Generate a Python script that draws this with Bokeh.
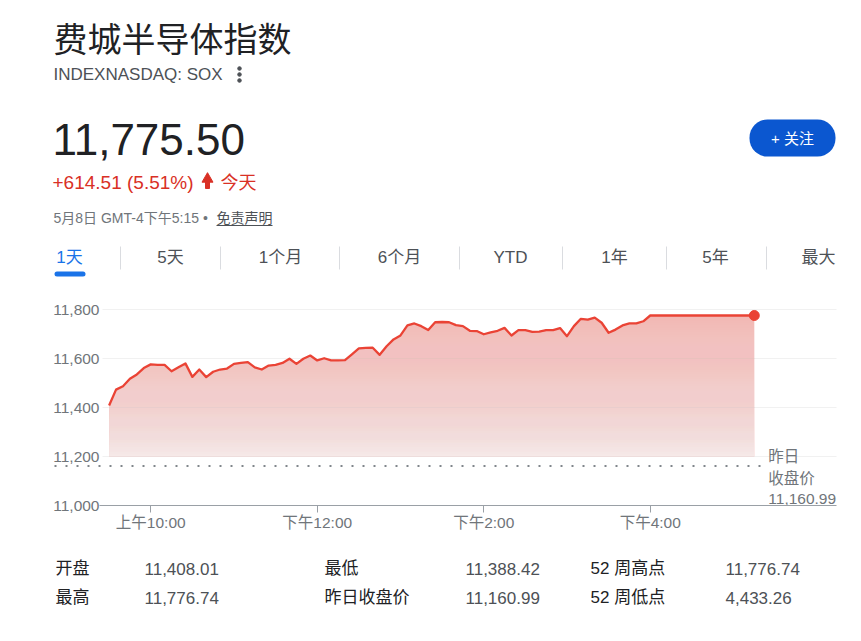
import numpy as np
from bokeh.plotting import figure
from bokeh.models import (Range1d, FixedTicker, NumeralTickFormatter, BoxAnnotation,
                          LinearAxis, Label)
from bokeh.core.properties import value
from bokeh.embed import file_html
from bokeh.resources import INLINE

FONT = "'Liberation Sans', 'Noto Sans CJK SC', sans-serif"

# ---------------- texts ----------------
title_text = "费城半导体指数"
ticker_text = "INDEXNASDAQ: SOX"
price_text = "11,775.50"
change_text = "+614.51 (5.51%)"
period_text = "今天"
date_text = "5月8日 GMT-4下午5:15 •"
disclaimer_text = "免责声明"
follow_text = "+ 关注"
tab_labels = ["1天", "5天", "1个月", "6个月", "YTD", "1年", "5年", "最大"]

# ---------------- intraday series ----------------
times = ["09:30", "09:35", "09:40", "09:45", "09:50", "09:55", "10:00", "10:05", "10:10", "10:15",
         "10:20", "10:25", "10:30", "10:35", "10:40", "10:45", "10:50", "10:55", "11:00", "11:05",
         "11:10", "11:15", "11:20", "11:25", "11:30", "11:35", "11:40", "11:45", "11:50", "11:55",
         "12:00", "12:05", "12:10", "12:15", "12:20", "12:25", "12:30", "12:35", "12:40", "12:45",
         "12:50", "12:55", "13:00", "13:05", "13:10", "13:15", "13:20", "13:25", "13:30", "13:35",
         "13:40", "13:45", "13:50", "13:55", "14:00", "14:05", "14:10", "14:15", "14:20", "14:25",
         "14:30", "14:35", "14:40", "14:45", "14:50", "14:55", "15:00", "15:05", "15:10", "15:15",
         "15:20", "15:25", "15:30", "15:35", "15:40", "15:45", "15:50", "15:55", "16:00", "17:15"]
prices = [11408, 11473, 11487, 11517, 11535, 11561, 11576, 11574, 11574, 11548,
          11564, 11580, 11525, 11555, 11524, 11546, 11555, 11559, 11578, 11582,
          11585, 11564, 11555, 11571, 11574, 11582, 11599, 11578, 11599, 11612,
          11592, 11601, 11592, 11592, 11593, 11617, 11641, 11643, 11644, 11615,
          11650, 11678, 11694, 11735, 11743, 11732, 11716, 11748, 11749, 11748,
          11736, 11732, 11713, 11712, 11699, 11707, 11713, 11725, 11694, 11716,
          11716, 11709, 11710, 11716, 11716, 11724, 11691, 11732, 11762, 11759,
          11767, 11746, 11705, 11718, 11735, 11743, 11743, 11752, 11775.5, 11775.5]
prev_close = 11160.99
prev_close_lines = ["昨日", "收盘价", "11,160.99"]

y_ticks = [11000, 11200, 11400, 11600, 11800]
x_ticks = [10, 12, 14, 16]
x_tick_labels = ["上午10:00", "下午12:00", "下午2:00", "下午4:00"]

stat_labels_a = ["开盘", "最高"]
stat_values_a = ["11,408.01", "11,776.74"]
stat_labels_b = ["最低", "昨日收盘价"]
stat_values_b = ["11,388.42", "11,160.99"]
stat_labels_c = ["52 周高点", "52 周低点"]
stat_values_c = ["11,776.74", "4,433.26"]

# ---------------- layout constants (page pixels) ----------------
W, H = 845, 630
X0, Y0 = 1, 1                 # page position of the canvas' top-left corner
PLOT_L, PLOT_R = 100, 837     # chart plotting area, left/right
AXIS_Y = 506                  # page y of the 11,000 baseline
PX_PER_HOUR = 83.25
PX_PER_UNIT = 0.245
OPEN_X = 109.6                # page x of the first sample

RED_LINE = "#ea4335"
RED_TEXT = "#d93025"
GRAY = "#70757a"
DARK = "#202124"
MID = "#4d5156"

hours = np.array([int(t[:2]) + int(t[3:]) / 60 for t in times])
prices_arr = np.array(prices, dtype=float)


def t_at(px):
    return hours[0] + (px - OPEN_X) / PX_PER_HOUR


def v_at(py):
    return y_ticks[0] + (AXIS_Y - py) / PX_PER_UNIT


p = figure(frame_width=W, frame_height=H,
           x_range=Range1d(X0, X0 + W), y_range=Range1d(Y0 + H, Y0),
           output_backend="svg", toolbar_location=None, min_border=0,
           x_axis_location=None, y_axis_location=None)
p.grid.visible = False
p.outline_line_color = None
p.background_fill_color = "white"
p.border_fill_color = "white"
p.extra_x_ranges = {"time": Range1d(t_at(X0), t_at(X0 + W))}
p.extra_y_ranges = {"price": Range1d(v_at(Y0 + H), v_at(Y0))}
TP = dict(x_range_name="time", y_range_name="price")


def txt(x, y, s, size, color, align="left", baseline="middle"):
    p.text(x=[x], y=[y], text=[s], text_font=value(FONT), text_font_size=f"{size}px",
           text_color=color, text_align=align, text_baseline=baseline)


# ---------------- header ----------------
txt(54, 40, title_text, 34, DARK)
txt(54, 75, ticker_text, 17, MID)
p.scatter(x=[240, 240, 240], y=[69, 75, 81], size=3.6, color=MID)
txt(53, 140, price_text, 44, DARK)
txt(53, 183, change_text, 19, RED_TEXT)
p.scatter(x=[208], y=[179.5], marker="triangle", size=11, color=RED_TEXT)
p.rect(x=[208], y=[185], width=4, height=8, color=RED_TEXT)
txt(221, 183, period_text, 18, RED_TEXT)
txt(54, 218, date_text, 14, GRAY)
txt(217, 218, disclaimer_text, 14, MID)
p.segment(x0=[217], y0=[226], x1=[273], y1=[226], line_color=MID, line_width=1)

p.add_layout(BoxAnnotation(left=750, right=836, top=120, bottom=157, fill_color="#0b57d0",
                           fill_alpha=1, line_alpha=0, border_radius=18))
p.add_layout(Label(x=793, y=139, text=follow_text, text_font=FONT, text_font_size="15px",
                   text_color="white", text_align="center", text_baseline="middle"))

tab_x = [70, 171, 281, 400, 511, 615, 716, 819]
sep_x = [121, 221, 340, 460, 563, 667, 767]
for i, (x, lab) in enumerate(zip(tab_x, tab_labels)):
    txt(x, 258, lab, 17, "#1a73e8" if i == 0 else MID, align="center")
p.segment(x0=sep_x, y0=[247] * len(sep_x), x1=sep_x, y1=[270] * len(sep_x),
          line_color="#dadce0", line_width=1)
p.add_layout(BoxAnnotation(left=55, right=86, top=272, bottom=277, fill_color="#1a73e8",
                           fill_alpha=1, line_alpha=0, border_radius=3))

# ---------------- chart ----------------
t_left, t_right = t_at(PLOT_L), t_at(PLOT_R)

# horizontal grid lines at the y ticks
p.segment(x0=t_at(103), x1=t_right, y0=y_ticks[1:], y1=y_ticks[1:],
          line_color="#f1f1f1", line_width=1, **TP)

# gradient area: red wash, then nested white veils that fade it toward the bottom
base = 11200
top = prices_arr.max()
a_top, a_base = 0.345, 0.03
p.varea(x=hours, y1=base, y2=prices_arr, fill_color=RED_TEXT, fill_alpha=a_top, **TP)
N = 60
levels = np.linspace(base, top, N + 1)
mids = (levels[:-1] + levels[1:]) / 2
T = (a_base + (a_top - a_base) * (mids - base) / (top - base)) / a_top
T_next = np.append(T[1:], 1.0)
veil_alpha = 1 - T / T_next
p.quad(left=hours[0], right=hours[-1], bottom=base, top=levels[1:],
       fill_color="white", fill_alpha=veil_alpha, line_color=None, **TP)

# previous close dotted line
p.segment(x0=[t_at(55)], x1=[t_at(765)], y0=[prev_close], y1=[prev_close],
          line_color="#80868b", line_width=2, line_dash="2 9", **TP)

p.line(hours, prices_arr, line_color=RED_LINE, line_width=2.3, line_join="round", **TP)
p.scatter(x=[hours[-1]], y=[prices_arr[-1]], size=10, color=RED_LINE, **TP)

for off, s in zip([-9.6, 12.4, 33.4], prev_close_lines):
    p.text(x=[hours[-1]], y=[prev_close], text=[s], x_offset=14, y_offset=off,
           text_font=value(FONT), text_font_size="15.5px", text_color=GRAY,
           text_baseline="middle", text_align="left", **TP)

# axes drawn at fixed positions inside the canvas
xaxis = LinearAxis(fixed_location=y_ticks[0], bounds=(t_left, t_right), **TP)
xaxis.ticker = FixedTicker(ticks=x_ticks)
xaxis.major_label_overrides = {t: s for t, s in zip(x_ticks, x_tick_labels)}
xaxis.axis_line_color = "#9aa0a6"
xaxis.major_tick_line_color = "#9aa0a6"
xaxis.minor_tick_line_color = None
xaxis.major_tick_in = 0
xaxis.major_tick_out = 7
xaxis.major_label_standoff = 1
xaxis.major_label_text_font = FONT
xaxis.major_label_text_font_size = "15.5px"
xaxis.major_label_text_color = GRAY
p.add_layout(xaxis, "below")

yaxis = LinearAxis(fixed_location=t_left, bounds=(y_ticks[0], y_ticks[-1]), **TP)
yaxis.ticker = FixedTicker(ticks=y_ticks)
yaxis.formatter = NumeralTickFormatter(format="0,0")
yaxis.axis_line_color = None
yaxis.major_tick_line_color = None
yaxis.minor_tick_line_color = None
yaxis.major_tick_out = 0
yaxis.major_tick_in = 0
yaxis.major_label_standoff = 0
yaxis.major_label_text_font = FONT
yaxis.major_label_text_font_size = "15.5px"
yaxis.major_label_text_color = GRAY
p.add_layout(yaxis, "left")

# ---------------- footer ----------------
cols = [(56, 145, stat_labels_a, stat_values_a),
        (325, 466, stat_labels_b, stat_values_b),
        (591, 726, stat_labels_c, stat_values_c)]
for lx, vx, labs, vals in cols:
    for ry, lab, val in zip([569, 598], labs, vals):
        txt(lx, ry, lab, 17, DARK)
        txt(vx, ry, val, 17, MID)

open("out.html", "w").write(file_html(p, INLINE))
